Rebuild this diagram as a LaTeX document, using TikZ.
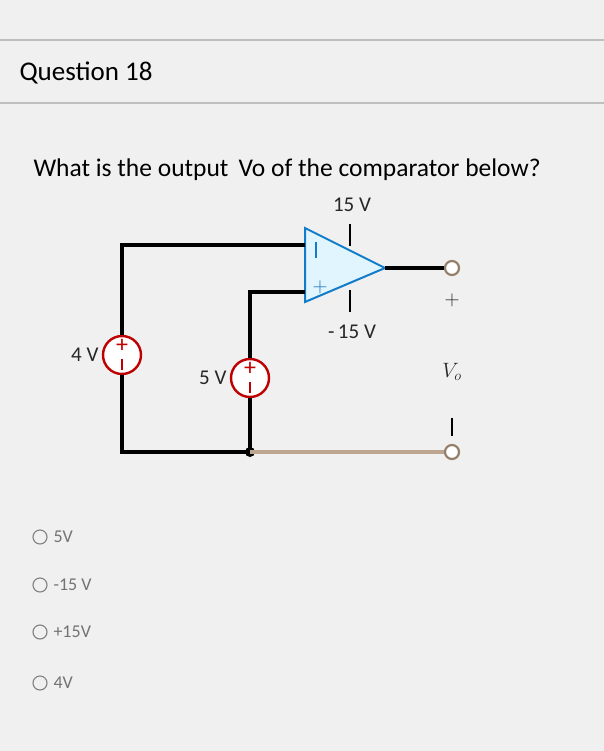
\documentclass[tikz,border=0pt]{standalone}
\usepackage{fontspec}
\setmainfont{Carlito}
\begin{document}
\begin{tikzpicture}[x=1pt,y=-1pt,
  wire/.style={line width=3.4pt,black},
  gwire/.style={line width=3.2pt,color=brown!50!gray!70},
  src/.style={circle,draw=red!75!black,line width=2.4pt,minimum size=38pt,inner sep=0pt,fill=white},
  term/.style={circle,draw=gray!70!brown,line width=2.2pt,minimum size=14pt,inner sep=0pt,fill=white},
  opt/.style={circle,draw=gray,line width=1.1pt,minimum size=14pt,inner sep=0pt},
  lbl/.style={font=\fontsize{21}{24}\selectfont,text=black!85}]
\useasboundingbox (0,0) rectangle (604,751);
\fill[gray!12] (0,0) rectangle (604,751);
\draw[gray!50,line width=1.4pt] (0,40) -- (604,40);
\draw[gray!50,line width=1.4pt] (0,103) -- (604,103);
\node[anchor=west,font=\fontsize{27}{30}\selectfont] (q) at (16,73) {Question 18};
\node[anchor=west,font=\fontsize{25.5}{30}\selectfont] (t) at (30,170) {What is the output\, Vo of the comparator below?};
% op-amp
\coordinate (ia) at (305,245);
\coordinate (ib) at (305,292);
\coordinate (out) at (385,268);
\draw[cyan!60!blue,fill=cyan!12,line width=2pt] (305,228) -- (305,302) -- (out) -- cycle;
\draw[cyan!60!blue,line width=1.5pt] (316,242) -- (316,258);
\node[text=cyan!50!blue,font=\fontsize{22}{22}\selectfont] (p) at (320,287) {$+$};
\draw[line width=2.4pt] (350,224) -- (350,246);
\draw[line width=2.4pt] (350,290) -- (350,312);
\node[lbl] (vp) at (352,205) {15 V};
\node[lbl] (vm) at (352,332) {-\,15 V};
% sources
\node[src] (s4) at (122,355) {};
\node[src] (s5) at (250,378) {};
\node[text=red!75!black,font=\fontsize{24}{24}\selectfont] at (122,346) {+};
\draw[red!75!black,line width=2pt] (122,359)--(122,370);
\node[text=red!75!black,font=\fontsize{24}{24}\selectfont] at (250,369) {+};
\draw[red!75!black,line width=2pt] (250,382)--(250,393);
\node[lbl,anchor=east] (l4) at (102,355) {4 V};
\node[lbl,anchor=east] (l5) at (230,378) {5 V};
% terminals
\node[term] (to) at (452,268) {};
\node[term] (tg) at (452,452) {};
\coordinate (j) at (250,452);
\draw[wire] (ia) -- (122,245) -- (s4.north);
\draw[wire] (s4.south) -- (122,452) -- (j);
\draw[wire] (ib) -- (250,292) -- (s5.north);
\draw[wire] (s5.south) -- (j);
\fill (j) circle (5pt);
\draw[gwire] (j) -- (tg.west);
\draw[wire] (out) -- (to.west);
\node[lbl] (plus) at (452,300) {$+$};
\node[lbl] (vo) at (452,372) {$V_o$};
\draw[line width=2pt] (452,418) -- (452,436);
% options
\foreach \y/\s [count=\i] in {537/5V,585/-15 V,632/+15V,683/4V}{
  \node[opt] (o\i) at (40,\y) {};
  \node[anchor=west,text=gray!90!black,font=\fontsize{18}{20}\selectfont] (ot\i) at (50,\y) {\s};
}
\end{tikzpicture}
\end{document}
